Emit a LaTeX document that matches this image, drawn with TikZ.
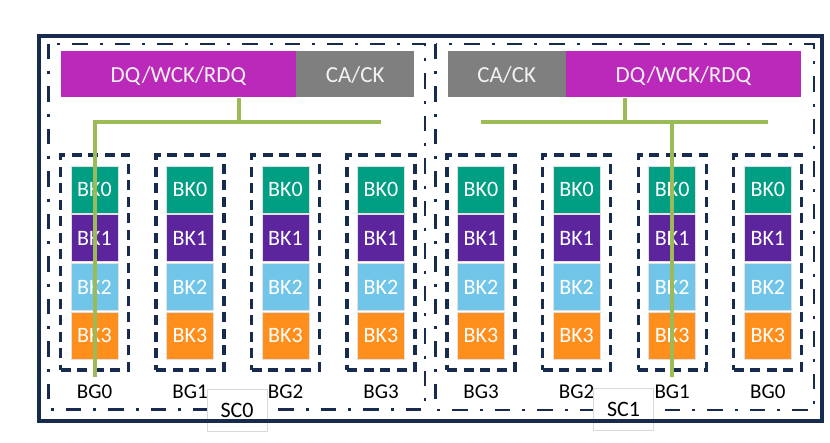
\documentclass[tikz,border=0pt]{standalone}
\usepackage{fontspec}
\setmainfont{Carlito}
\usetikzlibrary{positioning}
\usepackage{xcolor}

\definecolor{framenavy}{RGB}{23,43,79}
\definecolor{barmagenta}{RGB}{187,41,187}
\definecolor{bargray}{RGB}{127,127,127}
\definecolor{bankteal}{RGB}{0,158,130}
\definecolor{bankpurple}{RGB}{92,37,158}
\definecolor{bankblue}{RGB}{113,197,232}
\definecolor{bankorange}{RGB}{255,143,28}
\definecolor{busgreen}{RGB}{155,187,89}

\tikzset{
  bank/.style={draw={rgb,255:red,225;green,225;blue,225}, line width=0.8pt, minimum width=47pt, minimum height=47pt, inner sep=0pt, text=white, font=\fontsize{22}{26}\selectfont},
  bkzero/.style={bank, fill=bankteal},
  bkone/.style={bank, fill=bankpurple},
  bktwo/.style={bank, fill=bankblue},
  bkthree/.style={bank, fill=bankorange},
  bgbox/.style={draw=framenavy, line width=3.2pt, dash pattern=on 10pt off 6.5pt, minimum width=68pt, minimum height=215pt, inner sep=0pt},
  bglabel/.style={inner sep=0pt, font=\fontsize{21}{25}\selectfont},
  bar/.style={minimum height=46.5pt, inner sep=0pt, text=white!95!black, text depth=0pt, font=\fontsize{23}{27}\selectfont},
  bus/.style={draw=busgreen, line width=4pt},
  scframe/.style={draw=framenavy, line width=2.9pt, dash pattern=on 15.5pt off 12pt on 3pt off 12pt},
  sclabel/.style={draw={rgb,255:red,217;green,217;blue,217}, fill=white, line width=0.6pt, minimum width=60pt, minimum height=42pt, inner sep=0pt, font=\fontsize{22}{26}\selectfont}
}

\begin{document}
\begin{tikzpicture}[x=1pt,y=1pt,yscale=-1,xscale=1]
\useasboundingbox (0,0) rectangle (830,443);

%Shape: Dash Dot Rectangle [SC0]
\draw [scframe] (48.5,44) rectangle (425,409.5) ;
%Shape: Dash Dot Rectangle [SC1]
\draw [scframe] (435.5,44) rectangle (814,410) ;

% Bar nodes SC0
\node [bar, fill=barmagenta, minimum width=235.3pt] (dqA) at (178.35,74.25) {DQ/WCK/RDQ};
\node [bar, fill=bargray, minimum width=118.3pt] (caA) at (355.15,74.25) {CA/CK};
% Bar nodes SC1
\node [bar, fill=bargray, minimum width=118pt] (caB) at (506.7,74.25) {CA/CK};
\node [bar, fill=barmagenta, minimum width=235.3pt] (dqB) at (683.35,74.25) {DQ/WCK/RDQ};

% Bank group boxes SC0
\node [bgbox] (bgA0) at (94.5,262.5) {};
\node [bgbox] (bgA1) at (190,262.5) {};
\node [bgbox] (bgA2) at (285.5,262.5) {};
\node [bgbox] (bgA3) at (381,262.5) {};
% Bank group boxes SC1
\node [bgbox] (bgB3) at (481,262.5) {};
\node [bgbox] (bgB2) at (576.6,262.5) {};
\node [bgbox] (bgB1) at (672.2,262.5) {};
\node [bgbox] (bgB0) at (767.8,262.5) {};

% Banks SC0 BG0
\node [bkzero] (a0k0) at (94.5,189.5) {BK0};
\node [bkone] (a0k1) at (94.5,238.2) {BK1};
\node [bktwo] (a0k2) at (94.5,286.9) {BK2};
\node [bkthree] (a0k3) at (94.5,335.6) {BK3};
% Banks SC0 BG1
\node [bkzero] (a1k0) at (190,189.5) {BK0};
\node [bkone] (a1k1) at (190,238.2) {BK1};
\node [bktwo] (a1k2) at (190,286.9) {BK2};
\node [bkthree] (a1k3) at (190,335.6) {BK3};
% Banks SC0 BG2
\node [bkzero] (a2k0) at (285.5,189.5) {BK0};
\node [bkone] (a2k1) at (285.5,238.2) {BK1};
\node [bktwo] (a2k2) at (285.5,286.9) {BK2};
\node [bkthree] (a2k3) at (285.5,335.6) {BK3};
% Banks SC0 BG3
\node [bkzero] (a3k0) at (381,189.5) {BK0};
\node [bkone] (a3k1) at (381,238.2) {BK1};
\node [bktwo] (a3k2) at (381,286.9) {BK2};
\node [bkthree] (a3k3) at (381,335.6) {BK3};
% Banks SC1 BG3
\node [bkzero] (b3k0) at (481,189.5) {BK0};
\node [bkone] (b3k1) at (481,238.2) {BK1};
\node [bktwo] (b3k2) at (481,286.9) {BK2};
\node [bkthree] (b3k3) at (481,335.6) {BK3};
% Banks SC1 BG2
\node [bkzero] (b2k0) at (576.6,189.5) {BK0};
\node [bkone] (b2k1) at (576.6,238.2) {BK1};
\node [bktwo] (b2k2) at (576.6,286.9) {BK2};
\node [bkthree] (b2k3) at (576.6,335.6) {BK3};
% Banks SC1 BG1
\node [bkzero] (b1k0) at (672.2,189.5) {BK0};
\node [bkone] (b1k1) at (672.2,238.2) {BK1};
\node [bktwo] (b1k2) at (672.2,286.9) {BK2};
\node [bkthree] (b1k3) at (672.2,335.6) {BK3};
% Banks SC1 BG0
\node [bkzero] (b0k0) at (767.8,189.5) {BK0};
\node [bkone] (b0k1) at (767.8,238.2) {BK1};
\node [bktwo] (b0k2) at (767.8,286.9) {BK2};
\node [bkthree] (b0k3) at (767.8,335.6) {BK3};

% Bank group labels
\node [bglabel] (labA0) at (94.5,391.5) {BG0};
\node [bglabel] (labA1) at (190,391.5) {BG1};
\node [bglabel] (labA2) at (285.5,391.5) {BG2};
\node [bglabel] (labA3) at (381,391.5) {BG3};
\node [bglabel] (labB3) at (481,391.5) {BG3};
\node [bglabel] (labB2) at (576.6,391.5) {BG2};
\node [bglabel] (labB1) at (672.2,391.5) {BG1};
\node [bglabel] (labB0) at (767.8,391.5) {BG0};

% Bus lines SC0
\coordinate (tapA) at (239,122);
\draw [bus] (tapA |- dqA.south) -- (tapA) ;
\draw [bus] (380.7,122) -- (bgA0.north |- tapA) -- ([yshift=5pt]bgA0.south) ;
% Bus lines SC1
\coordinate (tapB) at (625,122);
\draw [bus] (tapB |- dqB.south) -- (tapB) ;
\draw [bus] (bgB3.north |- tapB) -- (bgB0.north |- tapB) ;
\draw [bus] (bgB1.north |- tapB) -- ([yshift=5pt]bgB1.south) ;

% Sub-channel labels
\node [sclabel] (scA) at (237,410) {SC0};
\node [sclabel] (scB) at (623.5,409.5) {SC1};

%Shape: Outer Rectangle
\draw [framenavy, line width=4pt] (38.5,36) rectangle (821.5,421) ;

\end{tikzpicture}
\end{document}
